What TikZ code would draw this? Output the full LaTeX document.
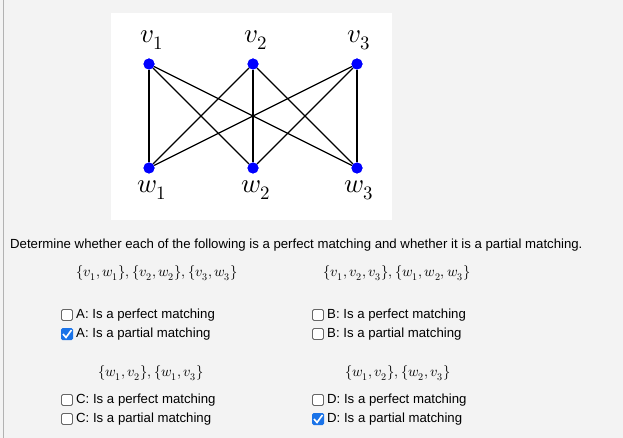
\documentclass[tikz,border=0pt]{standalone}
\usepackage{fontspec}
\setmainfont{Liberation Sans}
\usepackage{unicode-math}
\setmathfont{Latin Modern Math}
\definecolor{bg}{HTML}{F3F3F3}
\definecolor{vblue}{HTML}{0000FF}
\definecolor{cbblue}{HTML}{1A73E8}
\begin{document}
\begin{tikzpicture}[x=1pt,y=-1pt,
  vert/.style={circle,fill=vblue,inner sep=0,minimum size=11pt},
  edge/.style={line width=1.2pt},
  lab/.style={font=\fontsize{27}{27}\selectfont},
  txt/.style={font=\fontsize{13.2}{15}\selectfont,anchor=west,inner sep=0},
  setl/.style={font=\fontsize{14.5}{16}\selectfont,inner sep=0},
  cbox/.style={draw=gray!80!black,fill=white,rounded corners=1.5pt,minimum size=11pt,inner sep=0,line width=0.8pt},
  cboxon/.style={fill=cbblue,rounded corners=1.5pt,minimum size=12pt,inner sep=0}]
\useasboundingbox (0,0) rectangle (623,438);
\fill[bg] (0,0) rectangle (623,438);
\draw[gray!60,line width=1pt] (3,0) -- (3,438);
\fill[white] (111,13) rectangle (392,220);
\node[vert] (v1) at (149,64) {};
\node[vert] (v2) at (253,64) {};
\node[vert] (v3) at (357,64) {};
\node[vert] (w1) at (149,168) {};
\node[vert] (w2) at (253,168) {};
\node[vert] (w3) at (357,168) {};
\node[lab] (lv1) at (152,40) {$v_1$};
\node[lab] (lv2) at (256,40) {$v_2$};
\node[lab] (lv3) at (359,40) {$v_3$};
\node[lab] (lw1) at (152,190) {$w_1$};
\node[lab] (lw2) at (256,190) {$w_2$};
\node[lab] (lw3) at (359,190) {$w_3$};
\foreach \a in {v1,v2,v3}{\foreach \b in {w1,w2,w3}{\draw[edge] (\a) -- (\b);}}
\foreach \a in {v1,v2,v3,w1,w2,w3}{\node[vert] at (\a) {};}
\node[txt] (q) at (10,245) {Determine whether each of the following is a perfect matching and whether it is a partial matching.};
\node[setl] (s1) at (157,273) {$\{v_1,w_1\},\{v_2,w_2\},\{v_3,w_3\}$};
\node[setl] (s2) at (397,273) {$\{v_1,v_2,v_3\},\{w_1,w_2,w_3\}$};
\node[setl] (s3) at (151,373) {$\{w_1,v_2\},\{w_1,v_3\}$};
\node[setl] (s4) at (398,373) {$\{w_1,v_2\},\{w_2,v_3\}$};
% checkboxes
\node[cbox] (c1) at (67,315) {};
\node[cboxon] (c2) at (67,334) {};
\draw[white,line width=1.6pt] (63,334) -- (66,337.5) -- (71.5,330);
\node[cbox] (c3) at (67,400) {};
\node[cbox] (c4) at (67,419) {};
\node[cbox] (c5) at (318,315) {};
\node[cbox] (c6) at (318,334) {};
\node[cbox] (c7) at (318,400) {};
\node[cboxon] (c8) at (318,419) {};
\draw[white,line width=1.6pt] (314,419) -- (317,422.5) -- (322.5,415);
\node[txt] at (76,315) {A: Is a perfect matching};
\node[txt] at (76,334) {A: Is a partial matching};
\node[txt] at (76,400) {C: Is a perfect matching};
\node[txt] at (76,419) {C: Is a partial matching};
\node[txt] at (327,315) {B: Is a perfect matching};
\node[txt] at (327,334) {B: Is a partial matching};
\node[txt] at (327,400) {D: Is a perfect matching};
\node[txt] at (327,419) {D: Is a partial matching};
\end{tikzpicture}
\end{document}
